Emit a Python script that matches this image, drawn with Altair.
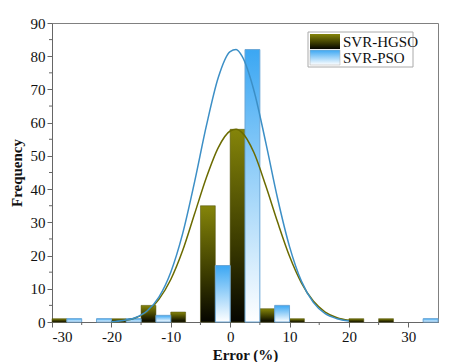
import altair as alt
import pandas as pd

# ---- data ----
bin_start = [-30, -25, -20, -15, -10, -5, 0, 5, 10, 15, 20, 25, 30]
hgso_counts = [1, 0, 1, 5, 3, 35, 58, 4, 1, 0, 1, 1, 0]
pso_counts = [1, 1, 1, 2, 0, 17, 82, 5, 0, 0, 0, 0, 1]
half_width = 2.5

curve_x = [-20, -18, -16, -14, -12, -10, -8, -6, -4, -2, 0, 1, 2, 4, 6, 8, 10, 12, 14, 16, 18, 20]
pso_curve = [0.1, 0.45, 1.3, 3.3, 7.5, 15.0, 26.6, 42.1, 59.1, 73.6, 81.4, 82.0, 80.0, 69.7, 54.0, 37.1, 22.7, 12.3, 5.9, 2.5, 1.0, 0.3]
hgso_curve = [0.1, 0.4, 1.2, 3.0, 6.8, 12.8, 21.5, 32.5, 43.5, 52.5, 57.5, 58.0, 57.0, 51.0, 41.0, 30.0, 19.8, 11.8, 6.3, 3.0, 1.3, 0.5]

series = ["SVR-HGSO", "SVR-PSO"]
x_ticks = [-30, -20, -10, 0, 10, 20, 30]
x_minor = [-25, -15, -5, 5, 15, 25]
y_ticks = [0, 10, 20, 30, 40, 50, 60, 70, 80, 90]
y_minor = [5, 15, 25, 35, 45, 55, 65, 75, 85]

FONT = "Liberation Serif"
W, H = 386, 299

hg_rows, ps_rows = [], []
for s, h, p in zip(bin_start, hgso_counts, pso_counts):
    if h > 0:
        hg_rows.append({"x": s, "x2": s + half_width, "count": h})
    if p > 0:
        ps_rows.append({"x": s + half_width, "x2": s + 2 * half_width, "count": p})
hg_df = pd.DataFrame(hg_rows)
ps_df = pd.DataFrame(ps_rows)
curve_df = pd.DataFrame({"x": curve_x, "pso": pso_curve, "hgso": hgso_curve})

olive_grad = alt.LinearGradient(
    gradient="linear", x1=0, y1=0, x2=0, y2=1,
    stops=[alt.GradientStop(color="#85850a", offset=0),
           alt.GradientStop(color="#3a3a00", offset=0.6),
           alt.GradientStop(color="#050500", offset=1)])
blue_grad = alt.LinearGradient(
    gradient="linear", x1=0, y1=0, x2=0, y2=1,
    stops=[alt.GradientStop(color="#3ba7f3", offset=0),
           alt.GradientStop(color="#ffffff", offset=1)])

xscale = alt.Scale(domain=[-30, 35], nice=False, zero=False)
yscale = alt.Scale(domain=[0, 90], nice=False)

xaxis = alt.Axis(values=x_ticks, title="Error (%)", grid=False, tickSize=5,
                 labelExpr="replace(datum.label, '\u2212', '-')",
                 labelFont=FONT, labelFontSize=15, labelColor="#111", labelPadding=2,
                 titleFont=FONT, titleFontSize=15, titleFontWeight="bold", titleColor="#111",
                 titlePadding=3, domainColor="#666", tickColor="#666")
yaxis = alt.Axis(values=y_ticks, title="Frequency", grid=False, tickSize=5,
                 labelFont=FONT, labelFontSize=15, labelColor="#111", labelPadding=2,
                 labelOverlap=False,
                 titleFont=FONT, titleFontSize=15, titleFontWeight="bold", titleColor="#111",
                 titlePadding=6, domainColor="#666", tickColor="#666")

X = lambda f: alt.X(f, scale=xscale, axis=xaxis)
Y = lambda f: alt.Y(f, scale=yscale, axis=yaxis)

hg_bars = alt.Chart(hg_df).mark_bar(color=olive_grad, stroke="#4a4a00", strokeWidth=0.5).encode(
    x=X("x:Q"), x2="x2:Q", y=Y("count:Q"), y2=alt.datum(0))
ps_bars = alt.Chart(ps_df).mark_bar(color=blue_grad, stroke="#6aa6d6", strokeWidth=1).encode(
    x=X("x:Q"), x2="x2:Q", y=Y("count:Q"), y2=alt.datum(0))
hg_line = alt.Chart(curve_df).mark_line(color="#6b6b00", strokeWidth=1.5, interpolate="monotone").encode(
    x=X("x:Q"), y=Y("hgso:Q"))
ps_line = alt.Chart(curve_df).mark_line(color="#3c8fc6", strokeWidth=1.5, interpolate="monotone").encode(
    x=X("x:Q"), y=Y("pso:Q"))

xminor = alt.Chart(pd.DataFrame({"v": x_minor})).mark_rule(color="#666").encode(
    x=X("v:Q"), y=alt.value(H), y2=alt.value(H + 3))
yminor = alt.Chart(pd.DataFrame({"v": y_minor})).mark_rule(color="#666").encode(
    y=Y("v:Q"), x=alt.value(0), x2=alt.value(-3))

one = pd.DataFrame({"k": [0]})
leg_box = alt.Chart(one).mark_rect(fill="white", stroke="#aaaaaa", strokeWidth=1).encode(
    x=alt.value(256), x2=alt.value(361), y=alt.value(9), y2=alt.value(44))
leg_hg = alt.Chart(one).mark_rect(color=olive_grad).encode(
    x=alt.value(258), x2=alt.value(288), y=alt.value(11), y2=alt.value(26))
leg_ps = alt.Chart(one).mark_rect(color=blue_grad, stroke="#aaaaaa", strokeWidth=0.5).encode(
    x=alt.value(258), x2=alt.value(288), y=alt.value(27), y2=alt.value(42))
leg_text = alt.Chart(pd.DataFrame({"label": series, "pos": [18.5, 34.5]})).mark_text(
    align="left", baseline="middle", font=FONT, fontSize=15, color="#111").encode(
    x=alt.value(291), y=alt.Y("pos:Q", scale=None), text="label:N")

chart = alt.layer(
    hg_bars, ps_bars, hg_line, ps_line, xminor, yminor, leg_box, leg_hg, leg_ps, leg_text
).properties(
    width=W, height=H,
    autosize=alt.AutoSizeParams(type="none"),
    padding={"left": 44, "top": 15, "right": 28, "bottom": 40},
).configure_view(stroke="#808080", strokeWidth=1)

chart.save("out.html", embed_options={"renderer": "svg", "actions": False})
